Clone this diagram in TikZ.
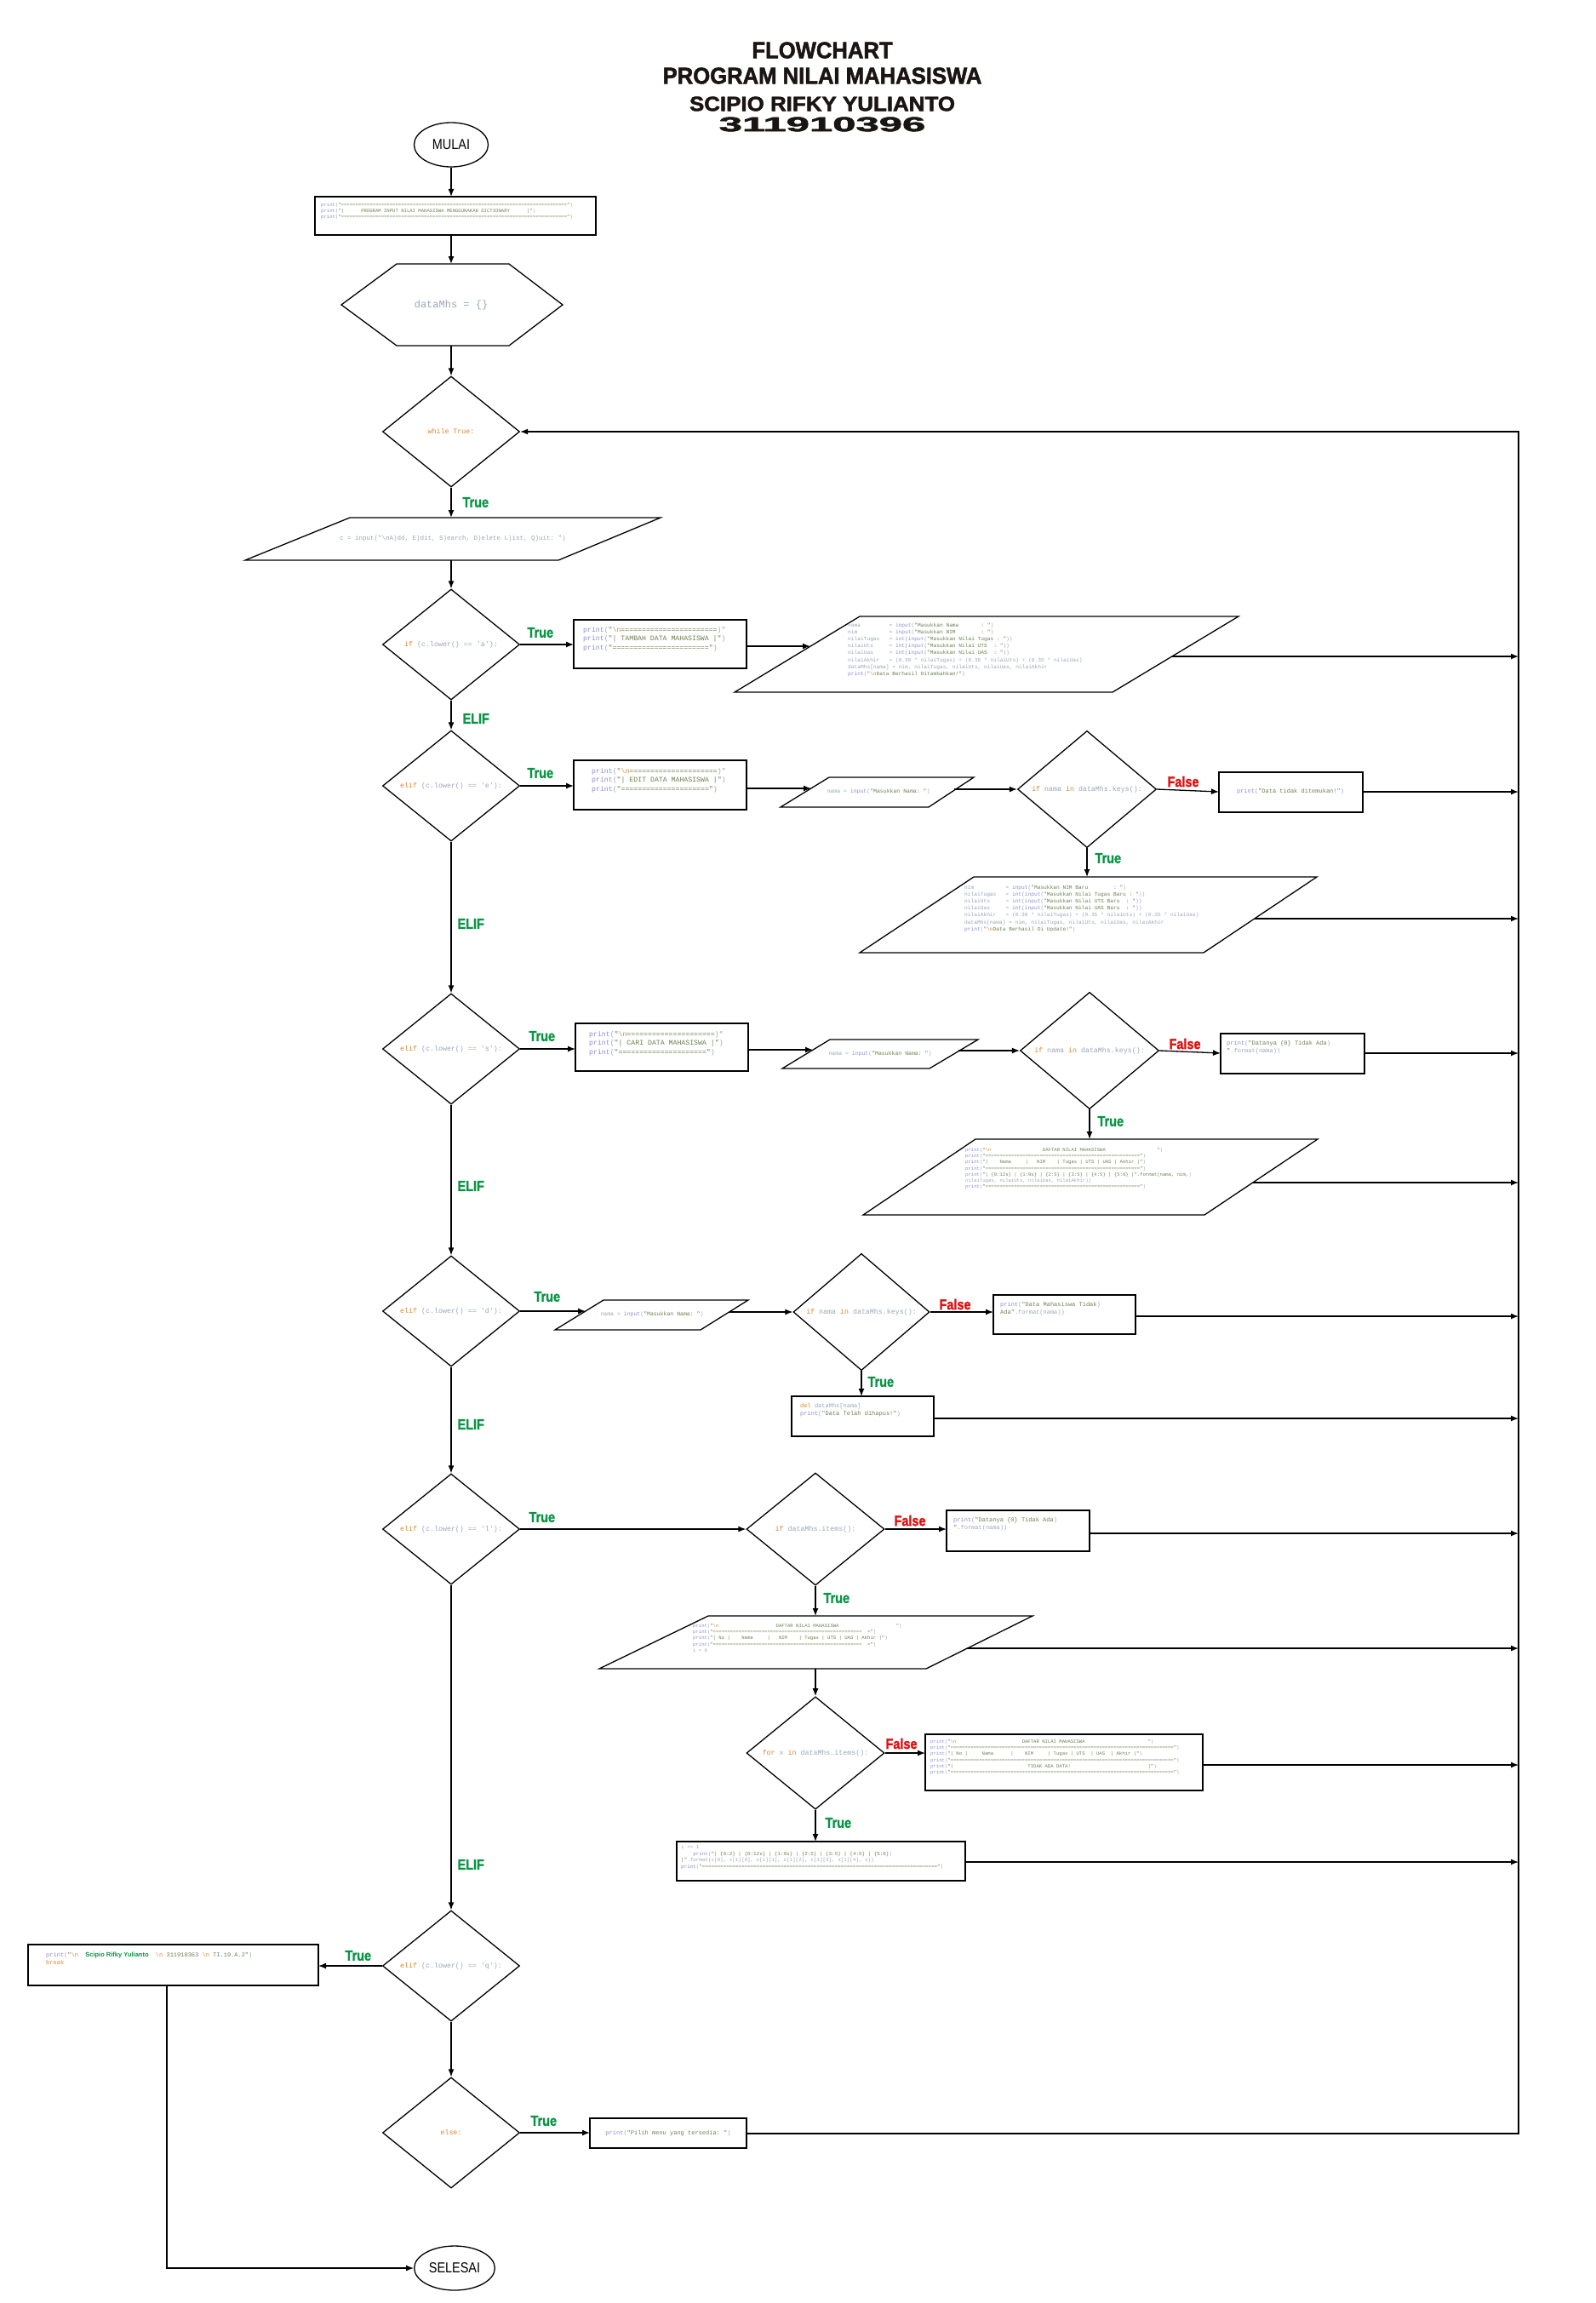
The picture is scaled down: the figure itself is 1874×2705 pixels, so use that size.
\documentclass[tikz,border=0pt]{standalone}
\usepackage{fontspec}
\usepackage{graphicx}
\usetikzlibrary{shapes.geometric,arrows.meta}
\setmonofont{Liberation Mono}
\newfontfamily\hv{Liberation Sans}
\newfontfamily\heavy[FakeBold=2]{Liberation Sans Bold}
\definecolor{cpr}{HTML}{8A8AD0}
\definecolor{cst}{HTML}{6E7E50}
\definecolor{ckw}{HTML}{D9862E}
\definecolor{cvr}{HTML}{9AA4B8}
\definecolor{cgr}{HTML}{0A9444}
\definecolor{crd}{HTML}{E01010}
\definecolor{ctt}{HTML}{1A1412}
\newcommand\bs{\textbackslash}
\newcommand\pr[1]{\textcolor{cpr}{print}\textcolor{cvr}{(}\textcolor{cst}{#1}\textcolor{cvr}{)}}
\newcommand\kw[1]{\textcolor{ckw}{#1}}
\newcommand\vr[1]{\textcolor{cvr}{#1}}
\newcommand\eqs{==========================}
\newcommand\lb[1]{\scalebox{0.85}[1]{#1}}
\begin{document}
\begin{tikzpicture}[x=1pt,y=-1pt,
  shp/.style={draw,line width=1.3pt},
  box/.style={draw,line width=1.6pt,rectangle,inner sep=0pt,anchor=north west},
  dia/.style={draw,line width=1.3pt,diamond,minimum width=161pt,minimum height=130pt,inner sep=0pt,font=\ttfamily\fontsize{8.3}{10}\selectfont,text=cvr},
  code/.style={font=\ttfamily\fontsize{#1}{#1}\linespread{1.3}\selectfont,align=left,inner sep=0pt,anchor=north west,text=cvr},
  code/.default=7,
  con/.style={line width=1.3pt,-{Latex[length=9pt,width=7pt]}},
  tl/.style={font=\heavy\fontsize{17}{17}\selectfont,text=cgr,anchor=west},
  fl/.style={font=\heavy\fontsize{17}{17}\selectfont,text=crd,anchor=west},
  ttl/.style={font=\heavy\fontsize{27}{27}\selectfont,text=ctt}]
\useasboundingbox (0,0) rectangle (1874,2705);
% title
\node[ttl] (t1) at (966,59) {\scalebox{0.95}[1]{FLOWCHART}};
\node[ttl] (t2) at (966,89) {\scalebox{0.95}[1]{PROGRAM NILAI MAHASISWA}};
\node[ttl,font=\heavy\fontsize{24}{24}\selectfont] (t3) at (966,122) {\scalebox{1.08}[1]{SCIPIO RIFKY YULIANTO}};
\node[ttl,font=\heavy\fontsize{28}{28}\selectfont] (t4) at (966,146) {\scalebox{1.75}[0.85]{311910396}};
% start
\node[draw,ellipse,line width=1.3pt,minimum width=87pt,minimum height=52pt,font=\hv\fontsize{17}{17}\selectfont] (mulai) at (530,170) {\lb{MULAI}};
\draw[box] (370,231) rectangle (700,276);
\coordinate (b1t) at (530,231); \coordinate (b1b) at (530,276);
\node[code=5.6] (b1) at (377,238) {\pr{"\eqs\eqs\eqs="}\\\pr{"|\ \ \ \ \ \ PROGRAM INPUT NILAI MAHASISWA MENGGUNAKAN DICTIONARY\ \ \ \ \ \ |"}\\\pr{"\eqs\eqs\eqs="}};
\draw[shp] (401,358) -- (466,310) -- (598,310) -- (661,358) -- (598,406) -- (466,406) -- cycle;
\node[font=\ttfamily\fontsize{12}{12}\selectfont,text=cvr] (hex) at (530,358) {dataMhs = \{\}};
\coordinate (hxt) at (530,310); \coordinate (hxb) at (530,406);
\node[dia] (wh) at (530,507) {\kw{while True:}};
\draw[shp] (288,658) -- (411,608) -- (776,608) -- (656,658) -- cycle;
\node[code=7.5,anchor=center] (inp) at (532,633) {c = input("\bs nA)dd, E)dit, S)earch, D)elete L)ist, Q)uit: ")};
\coordinate (inpt) at (530,608); \coordinate (inpb) at (530,658);
\draw[con] (mulai) -- (b1t);
\draw[con] (b1b) -- (hxt);
\draw[con] (hxb) -- (wh.north);
\draw[con] (wh.south) -- (inpt);
\node[tl] at (540,590) {\lb{True}};
% ===== A =====
\node[dia] (da) at (530,757) {\kw{if} (c.lower() == 'a'):};
\draw[con] (inpb) -- (da.north);
\draw[box] (674,728) rectangle (877,785);
\node[code=8.2] (ba) at (685,736) {\pr{"\kw{\bs n}=======================}"\\\pr{"| TAMBAH DATA MAHASISWA |"}\\\pr{"======================="}};
\coordinate (bal) at (674,757); \coordinate (bar) at (877,759);
\draw[shp] (1010,724) -- (1455,724) -- (1307,813) -- (863,813) -- cycle;
\node[code=6.2] (pa) at (996,732) {nama\ \ \ \ \ \ \ \ \ = \textcolor{cpr}{input}(\textcolor{cst}{"Masukkan Nama\ \ \ \ \ \ \ : "})\\
nim\ \ \ \ \ \ \ \ \ \ = \textcolor{cpr}{input}(\textcolor{cst}{"Masukkan NIM\ \ \ \ \ \ \ \ : "})\\
nilaiTugas\ \ \ = \textcolor{cpr}{int(input}(\textcolor{cst}{"Masukkan Nilai Tugas : "}))\\
nilaiUts\ \ \ \ \ = \textcolor{cpr}{int(input}(\textcolor{cst}{"Masukkan Nilai UTS\ \ : "}))\\
nilaiUas\ \ \ \ \ = \textcolor{cpr}{int(input}(\textcolor{cst}{"Masukkan Nilai UAS\ \ : "}))\\
nilaiAkhir\ \ \ = (0.30 * nilaiTugas) + (0.35 * nilaiUts) + (0.35 * nilaiUas)\\
dataMhs[nama] = nim, nilaiTugas, nilaiUts, nilaiUas, nilaiAkhir\\
\pr{"\kw{\bs n}Data Berhasil Ditambahkan!"}};
\coordinate (pal) at (952,759); \coordinate (par) at (1377,771); \coordinate (ra) at (1784,771);
\draw[con] (da.east) -- (bal);
\node[tl] at (616,743) {\lb{True}};
\draw[con] (bar) -- (pal);
\draw[con] (par) -- (ra);
% ===== E =====
\node[dia] (de) at (530,923) {\kw{elif} (c.lower() == 'e'):};
\draw[con] (da.south) -- (de.north);
\node[tl] at (540,844) {\lb{ELIF}};
\draw[box] (674,893) rectangle (877,951);
\node[code=8.2] (be) at (695,902) {\pr{"\kw{\bs n}=====================}"\\\pr{"| EDIT DATA MAHASISWA |"}\\\pr{"====================="}};
\coordinate (bel) at (674,923); \coordinate (ber) at (877,926);
\draw[shp] (974,913) -- (1144,913) -- (1091,948) -- (917,948) -- cycle;
\node[code=6.5,anchor=center] (pe) at (1032,930) {nama = \textcolor{cpr}{input}(\textcolor{cst}{"Masukkan Nama: "})};
\coordinate (pel) at (953,926); \coordinate (per) at (1121,927);
\node[dia,minimum width=163pt,minimum height=132pt] (ie) at (1277,927) {\kw{if} nama \kw{in} dataMhs.keys():};
\draw[box] (1432,907) rectangle (1601,954);
\node[code=7,anchor=center] (fe) at (1516,930) {\pr{"Data tidak ditemukan!"}};
\coordinate (fel) at (1432,930); \coordinate (fer) at (1601,930); \coordinate (re) at (1784,930);
\draw[shp] (1144,1030) -- (1547,1030) -- (1414,1119) -- (1010,1119) -- cycle;
\node[code=6.2] (pe2) at (1133,1040) {nim\ \ \ \ \ \ \ \ \ \ = \textcolor{cpr}{input}(\textcolor{cst}{"Masukkan NIM Baru\ \ \ \ \ \ \ \ : "})\\
nilaiTugas\ \ \ = \textcolor{cpr}{int(input}(\textcolor{cst}{"Masukkan Nilai Tugas Baru : "}))\\
nilaiUts\ \ \ \ \ = \textcolor{cpr}{int(input}(\textcolor{cst}{"Masukkan Nilai UTS Baru\ \ : "}))\\
nilaiUas\ \ \ \ \ = \textcolor{cpr}{int(input}(\textcolor{cst}{"Masukkan Nilai UAS Baru\ \ : "}))\\
nilaiAkhir\ \ \ = (0.30 * nilaiTugas) + (0.35 * nilaiUts) + (0.35 * nilaiUas)\\
dataMhs[nama] = nim, nilaiTugas, nilaiUts, nilaiUas, nilaiAkhir\\
\pr{"\kw{\bs n}Data Berhasil Di Update!"}};
\coordinate (pe2t) at (1277,1030); \coordinate (pe2r) at (1474,1079); \coordinate (re2) at (1784,1079);
\draw[con] (de.east) -- (bel);
\node[tl] at (616,908) {\lb{True}};
\draw[con] (ber) -- (pel);
\draw[con] (per) -- (ie.west);
\draw[con] (ie.east) -- (fel);
\node[fl] at (1368,918) {\lb{False}};
\draw[con] (fer) -- (re);
\draw[con] (ie.south) -- (pe2t);
\node[tl] at (1283,1008) {\lb{True}};
\draw[con] (pe2r) -- (re2);
% ===== S =====
\node[dia] (ds) at (530,1232) {\kw{elif} (c.lower() == 's'):};
\draw[con] (de.south) -- (ds.north);
\node[tl] at (534,1085) {\lb{ELIF}};
\draw[box] (676,1202) rectangle (879,1258);
\node[code=8.2] (bs) at (692,1211) {\pr{"\kw{\bs n}=====================}"\\\pr{"| CARI DATA MAHASISWA |"}\\\pr{"====================="}};
\coordinate (bsl) at (676,1232); \coordinate (bsr) at (879,1233);
\draw[shp] (975,1221) -- (1149,1221) -- (1092,1255) -- (919,1255) -- cycle;
\node[code=6.5,anchor=center] (ps) at (1034,1238) {nama = \textcolor{cpr}{input}(\textcolor{cst}{"Masukkan Nama: "})};
\coordinate (psl) at (955,1233); \coordinate (psr) at (1126,1234);
\node[dia,minimum width=163pt,minimum height=132pt] (is) at (1280,1234) {\kw{if} nama \kw{in} dataMhs.keys():};
\draw[box] (1434,1214) rectangle (1603,1261);
\node[code=7] (fs) at (1441,1222) {\pr{"Datanya \{0\} Tidak Ada}\\\textcolor{cst}{"}.format(nama))};
\coordinate (fsl) at (1434,1237); \coordinate (fsr) at (1603,1237); \coordinate (rs) at (1784,1237);
\draw[shp] (1146,1338) -- (1548,1338) -- (1415,1427) -- (1014,1427) -- cycle;
\node[code=5.6] (ps2) at (1134,1348) {\pr{"\kw{\bs n}\ \ \ \ \ \ \ \ \ \ \ \ \ \ \ \ \ \ DAFTAR NILAI MAHASISWA\ \ \ \ \ \ \ \ \ \ \ \ \ \ \ \ \ \ "}\\
\pr{"\eqs\eqs=="}\\
\pr{"|\ \ \ \ Nama\ \ \ \ \ |\ \ \ NIM\ \ \ \ | Tugas | UTS | UAS | Akhir |"}\\
\pr{"\eqs\eqs=="}\\
\pr{"| \{0:12s\} | \{1:9s\} | \{2:5\} | \{3:5\} | \{4:5\} | \{5:6\} |".format(nama, nim,}\\
nilaiTugas, nilaiUts, nilaiUas, nilaiAkhir))\\
\pr{"\eqs\eqs=="}};
\coordinate (ps2t) at (1280,1338); \coordinate (ps2r) at (1472,1389); \coordinate (rs2) at (1784,1389);
\draw[con] (ds.east) -- (bsl);
\node[tl] at (618,1217) {\lb{True}};
\draw[con] (bsr) -- (psl);
\draw[con] (psr) -- (is.west);
\draw[con] (is.east) -- (fsl);
\node[fl] at (1370,1226) {\lb{False}};
\draw[con] (fsr) -- (rs);
\draw[con] (is.south) -- (ps2t);
\node[tl] at (1286,1317) {\lb{True}};
\draw[con] (ps2r) -- (rs2);
% ===== D =====
\node[dia] (dd) at (530,1540) {\kw{elif} (c.lower() == 'd'):};
\draw[con] (ds.south) -- (dd.north);
\node[tl] at (534,1393) {\lb{ELIF}};
\draw[shp] (709,1527) -- (879,1527) -- (823,1562) -- (652,1562) -- cycle;
\node[code=6.5,anchor=center] (pd) at (766,1544) {nama = \textcolor{cpr}{input}(\textcolor{cst}{"Masukkan Nama: "})};
\coordinate (pdl) at (688,1540); \coordinate (pdr) at (857,1541);
\node[dia,minimum width=160pt,minimum height=132pt] (id) at (1012,1541) {\kw{if} nama \kw{in} dataMhs.keys():};
\draw[box] (1167,1521) rectangle (1334,1567);
\node[code=7] (fd) at (1175,1529) {\pr{"Data Mahasiswa Tidak}\\\textcolor{cst}{Ada"}.format(nama))};
\coordinate (fdl) at (1167,1541); \coordinate (fdr) at (1334,1546); \coordinate (rd) at (1784,1546);
\draw[box] (930,1640) rectangle (1097,1687);
\node[code=7] (dl) at (940,1648) {\kw{del} dataMhs[nama]\\\pr{"Data Telah dihapus!"}};
\coordinate (dlt) at (1012,1640); \coordinate (dlr) at (1097,1666); \coordinate (rd2) at (1784,1666);
\draw[con] (dd.east) -- (pdl);
\node[tl] at (624,1523) {\lb{True}};
\draw[con] (pdr) -- (id.west);
\draw[con] (id.east) -- (fdl);
\node[fl] at (1100,1532) {\lb{False}};
\draw[con] (fdr) -- (rd);
\draw[con] (id.south) -- (dlt);
\node[tl] at (1016,1623) {\lb{True}};
\draw[con] (dlr) -- (rd2);
% ===== L =====
\node[dia] (dl2) at (530,1796) {\kw{elif} (c.lower() == 'l'):};
\draw[con] (dd.south) -- (dl2.north);
\node[tl] at (534,1673) {\lb{ELIF}};
\node[dia,minimum width=162pt,minimum height=132pt] (il) at (958,1796) {\kw{if} dataMhs.items():};
\draw[box] (1112,1774) rectangle (1280,1822);
\node[code=7] (fl) at (1120,1782) {\pr{"Datanya \{0\} Tidak Ada}\\\textcolor{cst}{"}.format(nama))};
\coordinate (fll) at (1112,1796); \coordinate (flr) at (1280,1801); \coordinate (rl) at (1784,1801);
\draw[shp] (832,1898) -- (1213,1898) -- (1088,1960) -- (704,1960) -- cycle;
\node[code=5.6] (pl) at (814,1907) {\pr{"\kw{\bs n}\ \ \ \ \ \ \ \ \ \ \ \ \ \ \ \ \ \ \ \ DAFTAR NILAI MAHASISWA\ \ \ \ \ \ \ \ \ \ \ \ \ \ \ \ \ \ \ \ "}\\
\pr{"\eqs\eqs\ \ ="}\\
\pr{"| No |\ \ \ \ Nama\ \ \ \ \ |\ \ \ NIM\ \ \ \ | Tugas | UTS\ | UAS\ | Akhir |"}\\
\pr{"\eqs\eqs\ \ ="}\\
i = 0};
\coordinate (plt) at (958,1898); \coordinate (plb) at (958,1960); \coordinate (plr) at (1136,1936); \coordinate (rl2) at (1784,1936);
\node[dia,minimum width=162pt,minimum height=132pt] (fo) at (958,2059) {\kw{for} x \kw{in} dataMhs.items():};
\draw[box] (1087,2037) rectangle (1413,2103);
\node[code=5.6] (ff) at (1093,2043) {\pr{"\kw{\bs n}\ \ \ \ \ \ \ \ \ \ \ \ \ \ \ \ \ \ \ \ \ \ \ DAFTAR NILAI MAHASISWA\ \ \ \ \ \ \ \ \ \ \ \ \ \ \ \ \ \ \ \ \ \ "}\\
\pr{"\eqs\eqs\eqs"}\\
\pr{"| No |\ \ \ \ \ Nama\ \ \ \ \ \ |\ \ \ \ NIM\ \ \ \ \ | Tugas |\ UTS\ \ |\ UAS\ \ | Akhir |"}\\
\pr{"\eqs\eqs\eqs"}\\
\pr{"|\ \ \ \ \ \ \ \ \ \ \ \ \ \ \ \ \ \ \ \ \ \ \ \ \ \ TIDAK ADA DATA!\ \ \ \ \ \ \ \ \ \ \ \ \ \ \ \ \ \ \ \ \ \ \ \ \ \ \ |"}\\
\pr{"\eqs\eqs\eqs"}};
\coordinate (ffl) at (1087,2059); \coordinate (ffr) at (1413,2073); \coordinate (rl3) at (1784,2073);
\draw[box] (795,2163) rectangle (1134,2209);
\node[code=5.9] (ft) at (800,2167) {i += 1\\
\ \ \ \ \pr{"| \{6:2\} | \{0:12s\} | \{1:9s\} | \{2:5\} | \{3:5\} | \{4:5\} | \{5:6\}}\\
\textcolor{cst}{|"}.format(x[0], x[1][0], x[1][1], x[1][2], x[1][3], x[1][4], i))\\
\pr{"\eqs\eqs\eqs"}};
\coordinate (ftt) at (958,2163); \coordinate (ftr) at (1134,2187); \coordinate (rl4) at (1784,2187);
\draw[con] (dl2.east) -- (il.west);
\node[tl] at (618,1782) {\lb{True}};
\draw[con] (il.east) -- (fll);
\node[fl] at (1047,1786) {\lb{False}};
\draw[con] (flr) -- (rl);
\draw[con] (il.south) -- (plt);
\node[tl] at (964,1877) {\lb{True}};
\draw[con] (plb) -- (fo.north);
\draw[con] (plr) -- (rl2);
\draw[con] (fo.east) -- (ffl);
\node[fl] at (1037,2048) {\lb{False}};
\draw[con] (ffr) -- (rl3);
\draw[con] (fo.south) -- (ftt);
\node[tl] at (966,2141) {\lb{True}};
\draw[con] (ftr) -- (rl4);
% ===== Q =====
\node[dia] (dq) at (530,2309) {\kw{elif} (c.lower() == 'q'):};
\draw[con] (dl2.south) -- (dq.north);
\node[tl] at (534,2190) {\lb{ELIF}};
\draw[box] (33,2284) rectangle (374,2332);
\node[code=7] (bq) at (54,2293) {\pr{"\kw{\bs n}\ \ \textcolor{cgr}{\hv\bfseries\fontsize{7.5}{9}\selectfont Scipio Rifky Yulianto}\ \ \kw{\bs n} 311910363 \kw{\bs n} TI.19.A.2"}\\\kw{break}};
\coordinate (bqr) at (374,2309); \coordinate (bqb) at (196,2332);
\draw[con] (dq.west) -- (bqr);
\node[tl] at (402,2297) {\lb{True}};
\node[dia] (de2) at (530,2505) {\kw{else:}};
\draw[con] (dq.south) -- (de2.north);
\draw[box] (693,2488) rectangle (877,2523);
\node[code=7,anchor=center] (be2) at (785,2506) {\pr{"Pilih menu yang tersedia: "}};
\coordinate (bel2) at (693,2505); \coordinate (ber2) at (877,2506);
\draw[con] (de2.east) -- (bel2);
\node[tl] at (620,2491) {\lb{True}};
\coordinate (lpb) at (1784,2506); \coordinate (lpt) at (1784,507);
\draw[con] (ber2) -- (lpb) -- (lpt) -- (wh.east);
% end
\node[draw,ellipse,line width=1.3pt,minimum width=87pt,minimum height=52pt,font=\hv\fontsize{17}{17}\selectfont] (selesai) at (534,2664) {\lb{SELESAI}};
\draw[con] (bqb) |- (selesai.west);
\end{tikzpicture}
\end{document}
